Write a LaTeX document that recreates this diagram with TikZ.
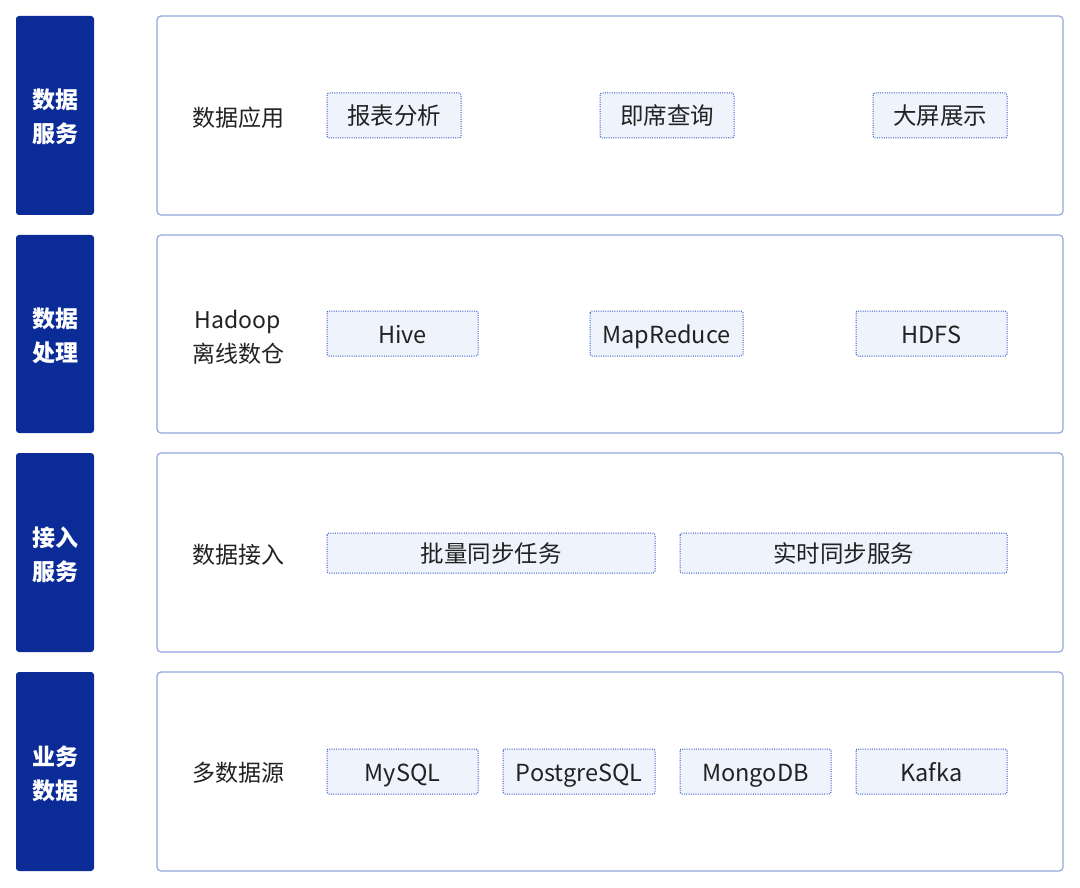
\documentclass[tikz,border=0pt]{standalone}
\usepackage{fontspec}
\setmainfont{Noto Sans CJK SC}
\definecolor{barblue}{HTML}{0B2B97}
\definecolor{panelline}{HTML}{94A6DC}
\definecolor{boxfill}{HTML}{EFF4FC}
\definecolor{boxline}{HTML}{3556C8}
\definecolor{txt}{HTML}{222222}
\begin{document}
\begin{tikzpicture}[x=1pt,y=-1pt,
  bar/.style={fill=barblue,draw=none,rounded corners=3pt},
  panel/.style={draw=panelline,line width=1.2pt,fill=white,rounded corners=4pt},
  item/.style={draw=boxline,fill=boxfill,line width=1pt,dash pattern=on 1pt off 1.3pt,rounded corners=2pt},
  bartext/.style={text=white,font=\fontsize{23}{34}\selectfont\bfseries,align=center},
  labeltext/.style={text=txt,font=\fontsize{23}{34}\selectfont,align=center},
  itemtext/.style={text=txt,font=\fontsize{23.5}{30}\selectfont,text height=20.7pt,text depth=2.8pt,inner sep=0pt}]
\useasboundingbox (0,0) rectangle (1080,888);
% rows
\foreach \t/\b [count=\i] in {16/215,235/433,453/652,672/871}{
  \fill[bar] (16,\t) rectangle (94,\b);
  \draw[panel] (157,\t) rectangle (1063,\b);
}
\node[bartext] (b1) at (55,117) {数据\\服务};
\node[bartext] (b2) at (55,336) {数据\\处理};
\node[bartext] (b3) at (55,555) {接入\\服务};
\node[bartext] (b4) at (55,774) {业务\\数据};
% labels
\node[labeltext] (l1) at (238,118) {数据应用};
\node[labeltext] (l2) at (238,337) {Hadoop\\离线数仓};
\node[labeltext] (l3) at (238,555) {数据接入};
\node[labeltext] (l4) at (238,773) {多数据源};
% items row 1
\draw[item] (327,93) rectangle (461,138); \node[itemtext] (r1a) at (394,116) {报表分析};
\draw[item] (600,93) rectangle (734,138); \node[itemtext] (r1b) at (667,116) {即席查询};
\draw[item] (873,93) rectangle (1007,138); \node[itemtext] (r1c) at (940,116) {大屏展示};
% row 2
\draw[item] (327,311) rectangle (478,356); \node[itemtext] (r2a) at (402.5,335) {Hive};
\draw[item] (590,311) rectangle (743,356); \node[itemtext] (r2b) at (666.5,335) {MapReduce};
\draw[item] (856,311) rectangle (1007,356); \node[itemtext] (r2c) at (931.5,335) {HDFS};
% row 3
\draw[item] (327,533) rectangle (655,573); \node[itemtext] (r3a) at (491,554) {批量同步任务};
\draw[item] (680,533) rectangle (1007,573); \node[itemtext] (r3b) at (843.5,554) {实时同步服务};
% row 4
\draw[item] (327,749) rectangle (478,794); \node[itemtext] (r4a) at (402.5,773) {MySQL};
\draw[item] (503,749) rectangle (655,794); \node[itemtext] (r4b) at (579,773) {PostgreSQL};
\draw[item] (680,749) rectangle (831,794); \node[itemtext] (r4c) at (755.5,773) {MongoDB};
\draw[item] (856,749) rectangle (1007,794); \node[itemtext] (r4d) at (931.5,773) {Kafka};
\end{tikzpicture}
\end{document}
